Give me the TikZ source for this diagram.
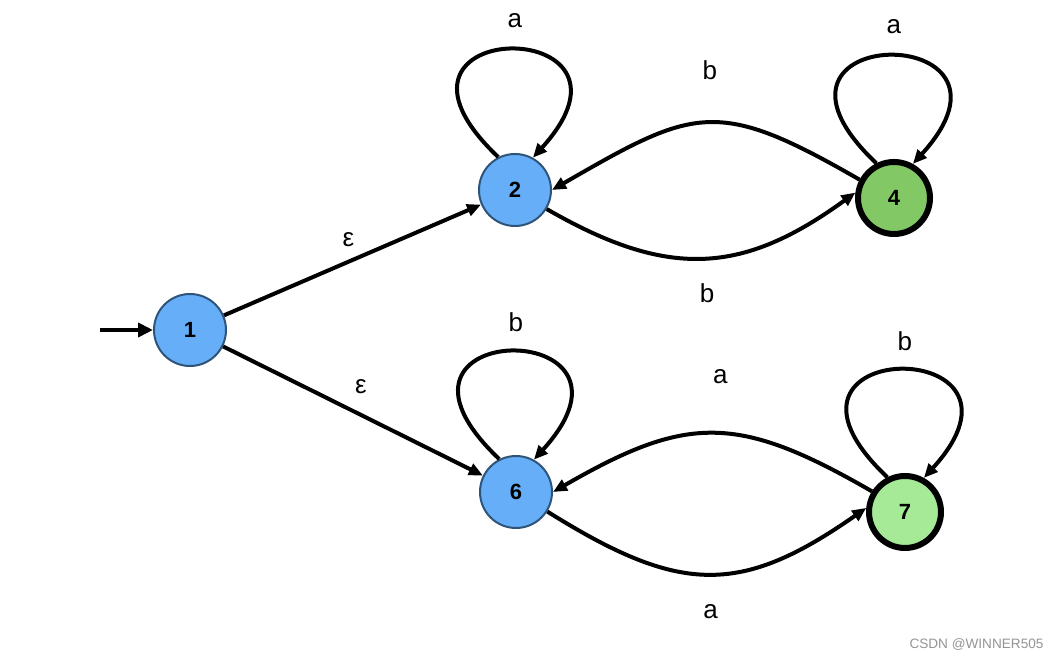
\documentclass[tikz,border=0pt]{standalone}
\usepackage{fontspec}
\setmainfont{Liberation Sans}
\usetikzlibrary{arrows.meta}

\definecolor{stateblue}{RGB}{102,174,247}
\definecolor{stateborder}{RGB}{46,84,122}
\definecolor{finalgreen}{RGB}{130,200,100}
\definecolor{finallight}{RGB}{166,234,152}

\begin{document}
\begin{tikzpicture}[x=1pt,y=1pt]

% Define styles
\tikzstyle{state}=[circle, minimum size=72pt, inner sep=0pt, font=\fontsize{22}{26}\selectfont\bfseries]
\tikzstyle{normal}=[state, fill=stateblue, draw=stateborder, line width=2pt]
\tikzstyle{final}=[state, fill=finalgreen, draw=black, line width=6pt]
\tikzstyle{finallight}=[final, fill=finallight]
\tikzstyle{edge}=[line width=4pt, -{Triangle[length=14pt,width=12pt]}]
\tikzstyle{label}=[font=\fontsize{26}{30}\selectfont]

\useasboundingbox (0,0) rectangle (1062,660);

% States
\foreach \n/\x/\y/\s in {1/190/330/normal, 2/515/470/normal, 6/516/168/normal, 4/894/462/final, 7/905/148/finallight} {
  \node[\s] (n\n) at (\x,\y) {\n};
}

% Start arrow
\coordinate (start) at (100,330);
\draw[line width=4.5pt, -{Triangle[length=15pt,width=14pt]}] (start) -- (n1);

% Epsilon moves
\draw[edge] (n1) -- (n2) node[label, midway, xshift=-4pt, yshift=20pt] {ε};
\draw[edge] (n1) -- (n6) node[label, midway, xshift=8pt, yshift=24pt] {ε};

% Curved moves
\draw[edge] (n2.-31) .. controls +(-30:140) and +(216:140) .. (n4.172) node[label, midway, xshift=3pt, yshift=-35pt] {b};
\draw[edge] (n4.152) .. controls +(150:165) and +(30:165) .. (n2.0) node[label, midway, xshift=4pt, yshift=53pt] {b};
\draw[edge] (n6.-32) .. controls +(-32:155) and +(215:155) .. (n7.174) node[label, midway, xshift=2pt, yshift=-38pt] {a};
\draw[edge] (n7.148) .. controls +(150:155) and +(30:155) .. (n6.0) node[label, midway, xshift=8pt, yshift=57pt] {a};

% Self loops
\foreach \n/\l in {2/a, 4/a, 6/b, 7/b} {
  \draw[edge] (n\n.117) .. controls +(-150,142) and +(132,145) .. (n\n.61) node[label, midway, xshift=6pt, yshift=29pt] {\l};
}

% Watermark
\node[font=\fontsize{13.6}{16}\selectfont, text=black!42, anchor=east] (mark) at (1047,15) {CSDN @WINNER505};

\end{tikzpicture}
\end{document}
